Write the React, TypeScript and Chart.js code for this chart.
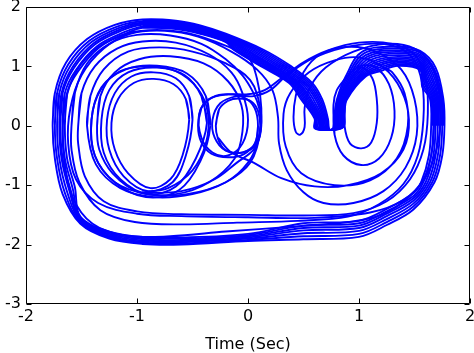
import React, { useEffect, useRef } from "react";
import { Chart, registerables } from "chart.js";

Chart.register(...registerables);

// ---- axis ticks and labels ----
const xTicks = [-2, -1, 0, 1, 2];
const yTicks = [-3, -2, -1, 0, 1, 2];
const xTitle = "Time (Sec)";

// ---- trajectories (x, y) ----
// outer band of the double scroll (outermost first)
const outer0 = [[-1.76,0],[-1.74,0.55],[-1.64,1.06],[-1.45,1.46],[-1.2,1.7],[-0.95,1.79],[-0.65,1.77],[-0.43,1.69],[-0.2,1.55],[0.14,1.28],[0.39,1.0],[0.58,0.72],[0.67,0.44],[0.72,0.12],[0.73,-0.04],[0.75,-0.07],[0.77,-0.02],[0.78,0.2],[0.8,0.44],[0.88,0.83],[1.03,1.25],[1.35,1.33],[1.55,1.26],[1.69,0.98],[1.76,0.45],[1.77,0],[1.75,-0.5],[1.68,-0.95],[1.49,-1.41],[1.25,-1.67],[1.0,-1.87],[0.5,-1.91],[0.0,-1.94],[-0.6,-2.0],[-0.95,-1.99],[-1.25,-1.9],[-1.51,-1.65],[-1.67,-1.15],[-1.74,-0.55],[-1.76,0],[-1.74,0.55]];
const outer1 = [[-1.74,0],[-1.72,0.55],[-1.62,1.03],[-1.43,1.43],[-1.18,1.67],[-0.95,1.76],[-0.65,1.74],[-0.43,1.66],[-0.2,1.52],[0.09,1.28],[0.34,1.0],[0.54,0.72],[0.64,0.44],[0.7,0.12],[0.71,-0.04],[0.75,-0.07],[0.79,-0.02],[0.8,0.2],[0.82,0.44],[0.91,0.83],[1.06,1.19],[1.35,1.27],[1.55,1.2],[1.67,0.92],[1.74,0.45],[1.75,0],[1.73,-0.5],[1.66,-0.95],[1.49,-1.36],[1.25,-1.62],[1.0,-1.82],[0.5,-1.86],[0.0,-1.92],[-0.6,-1.98],[-0.95,-1.97],[-1.25,-1.88],[-1.51,-1.63],[-1.65,-1.13],[-1.72,-0.55],[-1.74,0],[-1.72,0.55]];
const outer2 = [[-1.72,0],[-1.7,0.55],[-1.6,1.01],[-1.41,1.41],[-1.16,1.65],[-0.95,1.74],[-0.65,1.72],[-0.43,1.64],[-0.2,1.5],[0.04,1.28],[0.29,1.0],[0.5,0.72],[0.61,0.44],[0.68,0.12],[0.69,-0.04],[0.745,-0.07],[0.8,-0.02],[0.81,0.2],[0.83,0.44],[0.94,0.83],[1.09,1.14],[1.35,1.22],[1.55,1.15],[1.65,0.87],[1.72,0.45],[1.73,0],[1.71,-0.5],[1.64,-0.95],[1.49,-1.31],[1.25,-1.57],[1.0,-1.77],[0.5,-1.81],[0.0,-1.9],[-0.6,-1.96],[-0.95,-1.95],[-1.25,-1.86],[-1.51,-1.61],[-1.63,-1.11],[-1.7,-0.55],[-1.72,0],[-1.7,0.55]];
const outer3 = [[-1.7,0],[-1.68,0.55],[-1.58,0.99],[-1.39,1.39],[-1.14,1.63],[-0.95,1.72],[-0.65,1.7],[-0.43,1.62],[-0.2,1.48],[-0.01,1.28],[0.24,1.0],[0.46,0.72],[0.57,0.44],[0.66,0.12],[0.67,-0.04],[0.745,-0.07],[0.82,-0.02],[0.83,0.2],[0.85,0.44],[0.97,0.83],[1.12,1.08],[1.35,1.16],[1.55,1.09],[1.63,0.81],[1.7,0.45],[1.71,0],[1.69,-0.5],[1.62,-0.95],[1.49,-1.26],[1.25,-1.52],[1.0,-1.72],[0.5,-1.76],[0.0,-1.88],[-0.6,-1.94],[-0.95,-1.93],[-1.25,-1.84],[-1.51,-1.59],[-1.61,-1.09],[-1.68,-0.55],[-1.7,0],[-1.68,0.55]];
const outer4 = [[-1.69,0],[-1.67,0.55],[-1.57,0.97],[-1.38,1.37],[-1.13,1.61],[-0.95,1.7],[-0.65,1.68],[-0.43,1.6],[-0.2,1.46],[-0.05,1.28],[0.2,1.0],[0.43,0.72],[0.54,0.44],[0.64,0.12],[0.65,-0.04],[0.74,-0.07],[0.83,-0.02],[0.84,0.2],[0.86,0.44],[1.0,0.83],[1.15,1.03],[1.35,1.11],[1.55,1.04],[1.61,0.76],[1.68,0.45],[1.69,0],[1.67,-0.5],[1.6,-0.95],[1.49,-1.22],[1.25,-1.48],[1.0,-1.68],[0.5,-1.72],[0.0,-1.86],[-0.6,-1.92],[-0.95,-1.91],[-1.25,-1.82],[-1.51,-1.57],[-1.6,-1.07],[-1.67,-0.55],[-1.69,0],[-1.67,0.55]];
const outer5 = [[-1.67,0],[-1.65,0.55],[-1.55,0.94],[-1.36,1.34],[-1.11,1.58],[-0.95,1.67],[-0.65,1.65],[-0.43,1.57],[-0.2,1.43],[-0.09,1.28],[0.16,1.0],[0.4,0.72],[0.51,0.44],[0.62,0.12],[0.62,-0.04],[0.735,-0.07],[0.85,-0.02],[0.86,0.2],[0.88,0.44],[1.03,0.83],[1.18,0.98],[1.35,1.06],[1.55,0.99],[1.59,0.71],[1.66,0.45],[1.67,0],[1.65,-0.5],[1.58,-0.95],[1.49,-1.18],[1.25,-1.44],[1.0,-1.64],[0.5,-1.68],[0.0,-1.84],[-0.6,-1.9],[-0.95,-1.89],[-1.25,-1.8],[-1.51,-1.55],[-1.58,-1.05],[-1.65,-0.55],[-1.67,0],[-1.65,0.55]];
const outer6 = [[-1.65,0],[-1.63,0.55],[-1.53,0.92],[-1.34,1.32],[-1.09,1.56],[-0.95,1.65],[-0.65,1.63],[-0.43,1.55],[-0.2,1.41],[-0.13,1.28],[0.12,1.0],[0.37,0.72],[0.48,0.44],[0.6,0.12],[0.6,-0.04],[0.73,-0.07],[0.86,-0.02],[0.87,0.2],[0.89,0.44],[1.06,0.83],[1.21,0.93],[1.35,1.01],[1.55,0.94],[1.57,0.66],[1.64,0.45],[1.65,0],[1.63,-0.5],[1.56,-0.95],[1.49,-1.13],[1.25,-1.4],[1.0,-1.6],[0.5,-1.64],[0.0,-1.82],[-0.6,-1.88],[-0.95,-1.87],[-1.25,-1.78],[-1.51,-1.53],[-1.56,-1.03],[-1.63,-0.55],[-1.65,0],[-1.63,0.55]];

// passes of the band through the V (top left -> V -> right lobe top -> right side)
const arm01 = [[-0.95,1.775],[-0.65,1.755],[-0.43,1.675],[-0.2,1.535],[0.115,1.28],[0.365,1.0],[0.56,0.72],[0.655,0.44],[0.71,0.12],[0.72,-0.04],[0.75,-0.07],[0.78,-0.02],[0.79,0.2],[0.81,0.44],[0.895,0.83],[1.045,1.22],[1.35,1.3],[1.55,1.23],[1.68,0.95],[1.75,0.45],[1.76,0]];
const arm12 = [[-0.95,1.75],[-0.65,1.73],[-0.43,1.65],[-0.2,1.51],[0.065,1.28],[0.315,1.0],[0.52,0.72],[0.625,0.44],[0.69,0.12],[0.7,-0.04],[0.75,-0.07],[0.795,-0.02],[0.805,0.2],[0.825,0.44],[0.925,0.83],[1.075,1.165],[1.35,1.245],[1.55,1.175],[1.66,0.895],[1.73,0.45],[1.74,0]];
const arm23 = [[-0.95,1.73],[-0.65,1.71],[-0.43,1.63],[-0.2,1.49],[0.015,1.28],[0.265,1.0],[0.48,0.72],[0.59,0.44],[0.67,0.12],[0.68,-0.04],[0.745,-0.07],[0.81,-0.02],[0.82,0.2],[0.84,0.44],[0.955,0.83],[1.105,1.11],[1.35,1.19],[1.55,1.12],[1.64,0.84],[1.71,0.45],[1.72,0]];
const arm34 = [[-0.95,1.71],[-0.65,1.69],[-0.43,1.61],[-0.2,1.47],[-0.03,1.28],[0.22,1.0],[0.445,0.72],[0.555,0.44],[0.65,0.12],[0.66,-0.04],[0.74,-0.07],[0.825,-0.02],[0.835,0.2],[0.855,0.44],[0.985,0.83],[1.135,1.055],[1.35,1.135],[1.55,1.065],[1.62,0.785],[1.69,0.45],[1.7,0]];
const arm45 = [[-0.95,1.685],[-0.65,1.665],[-0.43,1.585],[-0.2,1.445],[-0.07,1.28],[0.18,1.0],[0.415,0.72],[0.525,0.44],[0.63,0.12],[0.635,-0.04],[0.74,-0.07],[0.84,-0.02],[0.85,0.2],[0.87,0.44],[1.015,0.83],[1.165,1.005],[1.35,1.085],[1.55,1.015],[1.6,0.735],[1.67,0.45],[1.68,0]];
const arm56 = [[-0.95,1.66],[-0.65,1.64],[-0.43,1.56],[-0.2,1.42],[-0.11,1.28],[0.14,1.0],[0.385,0.72],[0.495,0.44],[0.61,0.12],[0.61,-0.04],[0.73,-0.07],[0.855,-0.02],[0.865,0.2],[0.885,0.44],[1.045,0.83],[1.195,0.955],[1.35,1.035],[1.55,0.965],[1.58,0.685],[1.65,0.45],[1.66,0]];

// trajectory through the right lobe, the narrow loop and back round the outside
const crossing1 = [[1.68,0.2],[1.66,-0.4],[1.58,-0.9],[1.4,-1.25],[1.1,-1.46],[0.6,-1.55],[0.0,-1.54],[-0.6,-1.52],[-1.0,-1.48],[-1.35,-1.3],[-1.55,-0.9],[-1.62,-0.3],[-1.6,0.3],[-1.5,0.85],[-1.3,1.3],[-1.06,1.55],[-0.75,1.6],[-0.45,1.5],[-0.15,1.25],[0.08,0.95],[0.22,0.6],[0.27,0.15],[0.28,-0.3],[0.35,-0.75],[0.5,-1.12],[0.68,-1.3],[0.95,-1.3],[1.22,-1.1],[1.42,-0.7],[1.52,-0.15],[1.5,0.45],[1.38,0.95],[1.15,1.25],[0.9,1.33],[0.65,1.2],[0.5,0.9],[0.43,0.5],[0.41,0.15],[0.43,-0.1],[0.47,-0.15],[0.51,-0.02],[0.51,0.3],[0.56,0.65],[0.7,0.98],[0.95,1.25],[1.25,1.38],[1.5,1.3],[1.66,1.0],[1.73,0.45],[1.72,-0.2],[1.62,-0.8],[1.45,-1.2],[1.2,-1.5],[0.9,-1.62],[0.4,-1.7],[-0.2,-1.78],[-0.7,-1.86],[-1.1,-1.85],[-1.4,-1.65],[-1.58,-1.2],[-1.66,-0.5],[-1.66,0.2],[-1.58,0.8],[-1.4,1.25],[-1.15,1.52],[-0.9,1.61],[-0.6,1.58],[-0.3,1.42],[0.0,1.15],[0.08,0.8],[0.12,0.3],[0.1,-0.2],[0.0,-0.62],[-0.2,-0.95],[-0.55,-1.15],[-0.9,-1.15],[-1.2,-0.95],[-1.38,-0.5],[-1.41,0.1],[-1.33,0.6],[-1.15,0.92],[-0.9,1.0],[-0.65,0.92],[-0.45,0.62],[-0.36,0.2],[-0.38,-0.3],[-0.5,-0.75],[-0.72,-1.05],[-0.95,-1.12],[-0.6,-1.1],[-0.3,-0.9],[-0.1,-0.62],[0.05,-0.4],[0.08,-0.2],[0.09,0.0]];
// trajectories over the middle, round the right lobe top and along the lower inner band
const crossing2 = [[-1.53,0.0],[-1.5,0.55],[-1.38,1.0],[-1.18,1.3],[-0.95,1.42],[-0.65,1.4],[-0.35,1.2],[-0.15,0.9],[-0.05,0.55],[0.0,0.1],[-0.05,-0.3],[-0.18,-0.5],[-0.32,-0.45],[-0.42,-0.2],[-0.44,0.2],[-0.35,0.45],[-0.18,0.53],[0.0,0.53],[0.15,0.6],[0.3,0.8],[0.5,1.07],[0.72,1.27],[1.0,1.4],[1.3,1.38],[1.5,1.2],[1.6,0.8],[1.62,0.2],[1.58,-0.4],[1.46,-0.9],[1.25,-1.27],[0.95,-1.47],[0.5,-1.51],[0.0,-1.5],[-0.6,-1.49],[-1.0,-1.44],[-1.3,-1.27],[-1.47,-0.85],[-1.53,-0.3],[-1.53,0.0],[-1.5,0.55]];
const crossing3 = [[-1.59,0.0],[-1.56,0.55],[-1.45,1.05],[-1.25,1.38],[-1.0,1.53],[-0.7,1.52],[-0.42,1.38],[-0.2,1.12],[-0.05,0.85],[0.05,0.55],[0.1,0.3],[0.12,0.0],[0.08,-0.3],[-0.05,-0.45],[-0.2,-0.42],[-0.3,-0.2],[-0.32,0.1],[-0.25,0.38],[-0.1,0.5],[0.05,0.5],[0.2,0.6],[0.35,0.85],[0.6,1.15],[0.95,1.35],[1.28,1.36],[1.48,1.15],[1.57,0.7],[1.58,0.1],[1.53,-0.5],[1.4,-0.98],[1.18,-1.32],[0.9,-1.53],[0.45,-1.6],[-0.1,-1.63],[-0.6,-1.66],[-1.02,-1.62],[-1.33,-1.42],[-1.52,-0.95],[-1.59,-0.4],[-1.59,0.0],[-1.56,0.55]];

// left lobe
const leftLoop1 = [[-0.53,0.1],[-0.56,0.45],[-0.67,0.7],[-0.85,0.79],[-1.03,0.72],[-1.17,0.45],[-1.23,0.05],[-1.2,-0.4],[-1.08,-0.8],[-0.88,-1.05],[-0.7,-0.9],[-0.59,-0.5],[-0.53,0.1],[-0.56,0.45]];
const leftLoop2 = [[-0.5,0.1],[-0.53,0.5],[-0.65,0.8],[-0.85,0.9],[-1.05,0.83],[-1.2,0.55],[-1.27,0.1],[-1.25,-0.4],[-1.12,-0.85],[-0.9,-1.1],[-0.68,-0.95],[-0.56,-0.5],[-0.5,0.1],[-0.53,0.5]];
const leftLoop3 = [[-0.37,0.05],[-0.42,0.5],[-0.57,0.85],[-0.82,0.98],[-1.08,0.9],[-1.25,0.6],[-1.32,0.1],[-1.3,-0.45],[-1.15,-0.9],[-0.9,-1.15],[-0.65,-1.02],[-0.47,-0.55],[-0.37,0.05],[-0.42,0.5]];
const leftLoop4 = [[-0.34,0.0],[-0.38,0.5],[-0.55,0.88],[-0.82,1.01],[-1.1,0.95],[-1.32,0.65],[-1.41,0.1],[-1.38,-0.5],[-1.2,-0.95],[-0.92,-1.2],[-0.62,-1.08],[-0.43,-0.6],[-0.34,0.0],[-0.38,0.5]];
const leftLoop5 = [[-1.45,0.0],[-1.42,0.5],[-1.3,0.95],[-1.08,1.25],[-0.8,1.32],[-0.5,1.25],[-0.2,1.05],[0.02,0.77],[0.11,0.3],[0.11,-0.1],[0.02,-0.62],[-0.2,-0.95],[-0.5,-1.15],[-0.85,-1.2],[-1.15,-1.05],[-1.37,-0.65],[-1.45,0.0],[-1.42,0.5]];
const leftLoop6 = [[-1.36,0.0],[-1.33,0.5],[-1.2,0.9],[-0.98,1.12],[-0.7,1.17],[-0.4,1.05],[-0.18,0.75],[-0.06,0.35],[-0.05,-0.1],[-0.12,-0.55],[-0.35,-0.95],[-0.65,-1.15],[-0.98,-1.12],[-1.22,-0.8],[-1.34,-0.4],[-1.36,0.0],[-1.33,0.5]];

// small loops near the centre
const centreLoop1 = [[-0.45,0.0],[-0.42,0.3],[-0.32,0.48],[-0.18,0.53],[-0.03,0.47],[0.06,0.3],[0.09,0.0],[0.06,-0.3],[-0.04,-0.48],[-0.18,-0.53],[-0.33,-0.47],[-0.42,-0.28],[-0.45,0.0],[-0.42,0.3]];
const centreLoop2 = [[-0.29,0.0],[-0.26,0.28],[-0.18,0.42],[-0.08,0.46],[0.03,0.41],[0.09,0.25],[0.11,0.0],[0.08,-0.27],[-0.01,-0.42],[-0.1,-0.46],[-0.21,-0.4],[-0.27,-0.22],[-0.29,0.0],[-0.26,0.28]];
const centreExit = [[-0.27,-0.2],[-0.15,-0.45],[0.05,-0.62],[0.3,-0.88],[0.6,-1.02],[0.9,-1.0],[1.2,-0.8],[1.4,-0.4],[1.45,0.1],[1.38,0.6],[1.22,0.98],[1.0,1.15],[0.78,1.1],[0.55,0.9],[0.38,0.55],[0.32,0.2],[0.34,-0.35],[0.48,-0.8],[0.78,-1.0],[1.1,-0.92],[1.34,-0.55],[1.44,0.0],[1.41,0.55],[1.3,0.9],[1.2,1.02],[1.35,1.1]];

// right lobe
const rightLoop1 = [[0.87,0.45],[0.87,0.0],[0.92,-0.3],[1.02,-0.38],[1.11,-0.28],[1.16,0.05],[1.16,0.45],[1.12,0.8],[1.02,0.98],[0.93,0.8],[0.88,0.6],[0.87,0.45],[0.87,0.0]];
const rightLoop2 = [[0.77,0.35],[0.78,-0.15],[0.86,-0.5],[1.02,-0.66],[1.18,-0.55],[1.29,-0.2],[1.32,0.25],[1.27,0.7],[1.15,0.98],[1.0,1.0],[0.88,0.8],[0.8,0.6],[0.77,0.35],[0.78,-0.15]];

const trajectories = [outer0, outer1, outer2, outer3, outer4, outer5, outer6, arm01, arm12, arm23, arm34, arm45, arm56, crossing1, crossing2, crossing3, leftLoop1, leftLoop2, leftLoop3, leftLoop4, leftLoop5, leftLoop6, centreLoop1, centreLoop2, centreExit, rightLoop1, rightLoop2];

const framePlugin = {
  id: "frame",
  afterDatasetsDraw(chart: any) {
    const { ctx, chartArea: a, scales } = chart;
    ctx.save();
    ctx.strokeStyle = "#000";
    ctx.lineWidth = 1;
    const L = Math.round(a.left) + 0.5, R = Math.round(a.right) - 0.5;
    const T = Math.round(a.top) + 0.5, B = Math.round(a.bottom) - 0.5;
    ctx.beginPath();
    ctx.rect(L, T, R - L, B - T);
    const tl = 5;
    xTicks.forEach((v) => {
      const px = Math.round(scales.x.getPixelForValue(v)) + 0.5;
      ctx.moveTo(px, B); ctx.lineTo(px, B - tl);
      ctx.moveTo(px, T); ctx.lineTo(px, T + tl);
    });
    yTicks.forEach((v) => {
      const py = Math.round(scales.y.getPixelForValue(v)) + 0.5;
      ctx.moveTo(L, py); ctx.lineTo(L + tl, py);
      ctx.moveTo(R, py); ctx.lineTo(R - tl, py);
    });
    ctx.stroke();
    ctx.restore();
  },
};

export default function App() {
  const ref = useRef<HTMLCanvasElement>(null);
  useEffect(() => {
    document.body.style.margin = "0";
    const font = { family: "'DejaVu Sans', Arial, sans-serif", size: 16 };
    const chart = new Chart(ref.current!, {
      type: "scatter",
      data: {
        datasets: trajectories.map((t) => ({
          data: t.map(([x, y]) => ({ x, y })),
          showLine: true,
          borderColor: "#0000ff",
          borderWidth: 1.9,
          pointRadius: 0,
          tension: 0.35,
          fill: false,
        })),
      },
      options: {
        animation: false,
        responsive: false,
        events: [],
        layout: { padding: { left: 0, right: 4, top: 7, bottom: 0 } },
        plugins: { legend: { display: false }, tooltip: { enabled: false } },
        scales: {
          x: {
            type: "linear",
            min: -2,
            max: 2,
            afterBuildTicks: (s: any) => { s.ticks = xTicks.map((v) => ({ value: v })); },
            afterFit: (s: any) => { s.height = 49; s.paddingLeft = 0; s.paddingRight = 0; },
            grid: { display: false, drawTicks: false },
            border: { display: false },
            ticks: { color: "#000", font, padding: 3 },
            title: { display: true, text: xTitle, color: "#000", font: { ...font, lineHeight: 1 }, padding: { top: 0, bottom: 0 } },
          },
          y: {
            type: "linear",
            min: -3,
            max: 2,
            afterBuildTicks: (s: any) => { s.ticks = yTicks.map((v) => ({ value: v })); },
            afterFit: (s: any) => { s.width = 26; s.paddingTop = 0; s.paddingBottom = 0; },
            grid: { display: false, drawTicks: false },
            border: { display: false },
            ticks: { color: "#000", font, padding: 5 },
          },
        },
      },
      plugins: [framePlugin],
    });
    return () => chart.destroy();
  }, []);
  return (
    <div style={{ position: "absolute", left: 0, top: 0, width: 474, height: 353, background: "#fff" }}>
      <canvas ref={ref} width={474} height={353} />
    </div>
  );
}
